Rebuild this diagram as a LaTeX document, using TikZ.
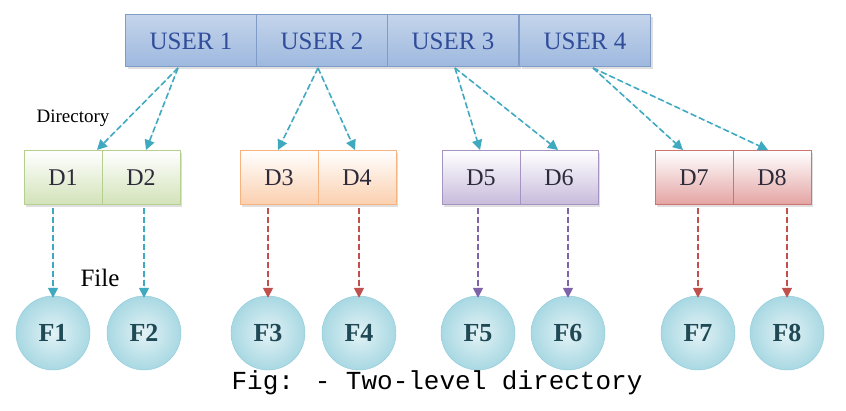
\documentclass[tikz,border=0pt]{standalone}
\usepackage{fontspec}
\setmainfont{Liberation Serif}
\newfontfamily\monof{Liberation Mono}
\usetikzlibrary{arrows.meta,shadows}
\definecolor{ublue}{HTML}{9DB8DE}
\definecolor{uborder}{HTML}{7F9CC8}
\definecolor{utext}{HTML}{2F4D9A}
\definecolor{teal1}{HTML}{3FA9C0}
\definecolor{red1}{HTML}{C0504D}
\definecolor{pur1}{HTML}{7E63A8}
\definecolor{gfill}{HTML}{D2E2B8}\definecolor{gdraw}{HTML}{B5CF8E}
\definecolor{ofill}{HTML}{FBCFAE}\definecolor{odraw}{HTML}{F6B37F}
\definecolor{pfill}{HTML}{C7BADB}\definecolor{pdraw}{HTML}{A593C2}
\definecolor{rfill}{HTML}{E3A3A2}\definecolor{rdraw}{HTML}{CD7473}
\definecolor{dtext}{HTML}{2D2A3A}
\definecolor{ftext}{HTML}{1F4A55}
\tikzset{
 cell/.style 2 args={draw=#2, line width=1pt, minimum width=78pt, minimum height=54pt, inner sep=0pt, font=\fontsize{24}{24}\selectfont, text=dtext, top color=white, bottom color=#1, drop shadow={opacity=0.25,shadow xshift=2pt,shadow yshift=-2pt}},
 ucell/.style={draw=uborder, line width=1pt, minimum width=131pt, minimum height=52pt, inner sep=0pt, font=\fontsize{25}{25}\selectfont, text=utext, top color=ublue!60, bottom color=ublue, drop shadow={opacity=0.25,shadow xshift=2pt,shadow yshift=-2pt}},
 file/.style={circle, draw=teal1!60, minimum size=74pt, inner sep=0pt, inner color=teal1!15, outer color=teal1!45, font=\fontsize{26}{26}\selectfont\bfseries, text=ftext},
 arr/.style={-{Triangle[length=10pt,width=10pt]}, dash pattern=on 6pt off 3pt, line width=1.6pt, draw=#1, fill=#1},
 lbl/.style={font=\fontsize{19}{19}\selectfont, inner sep=0pt}
}
\begin{document}
\begin{tikzpicture}[x=1pt,y=-1pt]
\useasboundingbox[fill=white] (0,0) rectangle (846,411);
\node[ucell] (u1) at (191,41) {USER 1};
\node[ucell] (u2) at (322,41) {USER 2};
\node[ucell] (u3) at (453,41) {USER 3};
\node[ucell] (u4) at (585,41) {USER 4};
\coordinate (s1) at (178,68); \coordinate (s2) at (318,68);
\coordinate (s3) at (455,68); \coordinate (s4) at (593,68);
\coordinate (t1) at (97,150); \coordinate (t2) at (146,150);
\coordinate (t3) at (278,150); \coordinate (t4) at (355,150);
\coordinate (t5) at (480,150); \coordinate (t6) at (558,150);
\coordinate (t7) at (683,150); \coordinate (t8) at (768,150);
\node[cell={gfill}{gdraw}] (d1) at (63,178) {D1};
\node[cell={gfill}{gdraw}] (d2) at (141,178) {D2};
\node[cell={ofill}{odraw}] (d3) at (279,178) {D3};
\node[cell={ofill}{odraw}] (d4) at (357,178) {D4};
\node[cell={pfill}{pdraw}] (d5) at (481,178) {D5};
\node[cell={pfill}{pdraw}] (d6) at (559,178) {D6};
\node[cell={rfill}{rdraw}] (d7) at (694,178) {D7};
\node[cell={rfill}{rdraw}] (d8) at (772,178) {D8};
\node[lbl] (dir) at (73,118) {Directory};
\node[lbl, font=\fontsize{25}{25}\selectfont] (file) at (100,278) {File};
\foreach \i/\x in {1/53,2/144,3/268,4/359,5/478,6/568,7/698,8/787}
  \node[file] (f\i) at (\x,333) {F\i};
\draw[arr=teal1] (s1) -- (t1);
\draw[arr=teal1] (s1) -- (t2);
\draw[arr=teal1] (s2) -- (t3);
\draw[arr=teal1] (s2) -- (t4);
\draw[arr=teal1] (s3) -- (t5);
\draw[arr=teal1] (s3) -- (t6);
\draw[arr=teal1] (s4) -- (t7);
\draw[arr=teal1] (s4) -- (t8);
\foreach \i/\c in {1/teal1,2/teal1,3/red1,4/red1,5/pur1,6/pur1,7/red1,8/red1}
  \draw[arr=\c] ([yshift=-3pt]d\i.south -| f\i.north) -- ([yshift=-2pt]f\i.north);
\node[font=\monof\fontsize{26}{26}\selectfont] (cap) at (437,383) {Fig: - Two-level directory};
\end{tikzpicture}
\end{document}
